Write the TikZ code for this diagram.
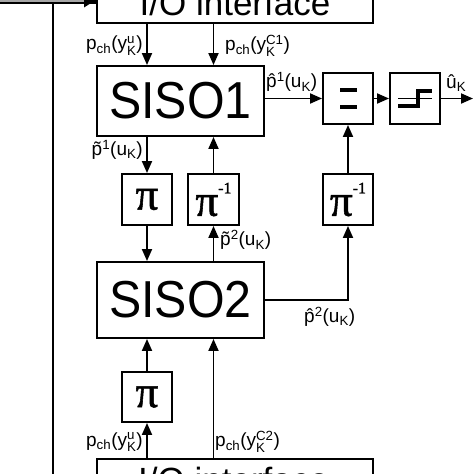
\documentclass[tikz,border=0pt]{standalone}
\usepackage{amsmath}
\usepackage{fontspec}
\setmainfont{Liberation Sans}
\newfontfamily\pifont[FakeBold=1.2]{Liberation Serif}
\usetikzlibrary{arrows.meta}
\newcommand\tx[1]{\text{#1}}
\newcommand\piinv{{\pifont π}\raisebox{0.5em}{\fontsize{16}{17}\selectfont -1}}
\begin{document}
\begin{tikzpicture}[x=1pt,y=-1pt,
  blk/.style={draw,line width=1.9pt,inner sep=0pt},
  big/.style={font=\fontsize{52}{60}\selectfont},
  pis/.style={font=\pifont\fontsize{45}{48}\selectfont},
  lbl/.style={inner sep=0pt,font=\fontsize{19}{22}\selectfont},
  ttl/.style={inner sep=0pt,font=\fontsize{35}{40}\selectfont},
  arr/.style={line width=1.9pt,-{Triangle[length=12pt,width=10pt]}},
  ln/.style={line width=1.9pt}]
\useasboundingbox (0,0) rectangle (474,474);
\clip (0,0) rectangle (474,474);
% blocks
\node[blk,minimum width=276pt,minimum height=66pt] (io1) at (235,-10) {};
\node[ttl,anchor=base] (t1) at (235,15) {I/O interface};
\node[blk,big,minimum width=167pt,minimum height=70pt] (s1) at (180.5,101) {\scalebox{0.93}[1]{SISO1}};
\node[blk,big,minimum width=167pt,minimum height=76pt] (s2) at (180.5,300) {\scalebox{0.93}[1]{SISO2}};
\node[blk,minimum width=50pt,minimum height=51pt] (eq) at (348,98.5) {};
\node[blk,minimum width=50pt,minimum height=51pt] (qz) at (415,98.5) {};
\node[blk,pis,minimum width=50pt,minimum height=51pt] (p1) at (147,199.5) {π};
\node[blk,pis,minimum width=51pt,minimum height=51pt] (pi1) at (213.5,199.5) {\piinv};
\node[blk,pis,minimum width=50pt,minimum height=51pt] (pi2) at (348,199.5) {\piinv};
\node[blk,pis,minimum width=50pt,minimum height=50pt] (p3) at (147,397) {π};
\node[blk,minimum width=276pt,minimum height=62pt] (io2) at (235,490) {};
\node[ttl,anchor=base west] (t2) at (138,492) {I/O interface};
% symbols
\draw[line width=3.5pt] (340,90) -- (357,90) (340,107) -- (357,107);
\draw[line width=1.2pt] (398,98.5) -- (432,98.5);
\draw[line width=3.5pt,miter limit=10] (398,106) -- (418,106) -- (418,91) -- (432,91);
% connectors
\coordinate (lt) at (53,0);
\coordinate (lb) at (53,474);
\draw[ln] (lt) -- (lb);
\coordinate (g0) at (-5,0);
\draw[line width=7pt,black] (g0) -- (io1.west |- g0);
\draw[line width=4.5pt,gray!70,-{Triangle[black,length=12pt,width=14pt]}] (g0) -- (io1.west |- g0);
\coordinate (out) at (473,98.5);
\draw[arr] (io1.south -| p1) -- (s1.north -| p1);
\draw[arr] (io1.south -| pi1) -- (s1.north -| pi1);
\draw[arr] (s1.south -| p1) -- (p1.north);
\draw[arr] (p1.south) -- (s2.north -| p1);
\draw[arr] (s2.north -| pi1) -- (pi1.south);
\draw[arr] (pi1.north) -- (s1.south -| pi1);
\draw[arr] (s1.east |- eq) -- (eq.west);
\draw[arr] (eq.east) -- (qz.west);
\draw[arr] (qz.east) -- (out);
\draw[arr] (s2.east) -- (s2.east -| pi2) -- (pi2.south);
\draw[arr] (pi2.north) -- (eq.south);
\draw[arr] (io2.north -| p3) -- (p3.south);
\draw[arr] (p3.north) -- (s2.south -| p3);
\draw[arr] (io2.north -| pi1) -- (s2.south -| pi1);
% labels
\node[lbl,anchor=east] (l1) at (143,46) {p$_{\tx{ch}}$(y$^{\tx{u}}_{\tx{K}}$)};
\node[lbl,anchor=west] (l2) at (225,46) {p$_{\tx{ch}}$(y$^{\tx{C1}}_{\tx{K}}$)};
\node[lbl,anchor=south west] (l3) at (266,92) {\^{p}$^{\tx{1}}$(u$_{\tx{K}}$)};
\node[lbl,anchor=south west] (l4) at (446,92) {\^{u}$_{\tx{K}}$};
\node[lbl,anchor=east] (l5) at (143,150) {\~{p}$^{\tx{1}}$(u$_{\tx{K}}$)};
\node[lbl,anchor=west] (l6) at (220,240) {\~{p}$^{\tx{2}}$(u$_{\tx{K}}$)};
\node[lbl,anchor=north west] (l7) at (304,307) {\^{p}$^{\tx{2}}$(u$_{\tx{K}}$)};
\node[lbl,anchor=east] (l8) at (143,442) {p$_{\tx{ch}}$(y$^{\tx{u}}_{\tx{K}}$)};
\node[lbl,anchor=west] (l9) at (215,442) {p$_{\tx{ch}}$(y$^{\tx{C2}}_{\tx{K}}$)};
\end{tikzpicture}
\end{document}
